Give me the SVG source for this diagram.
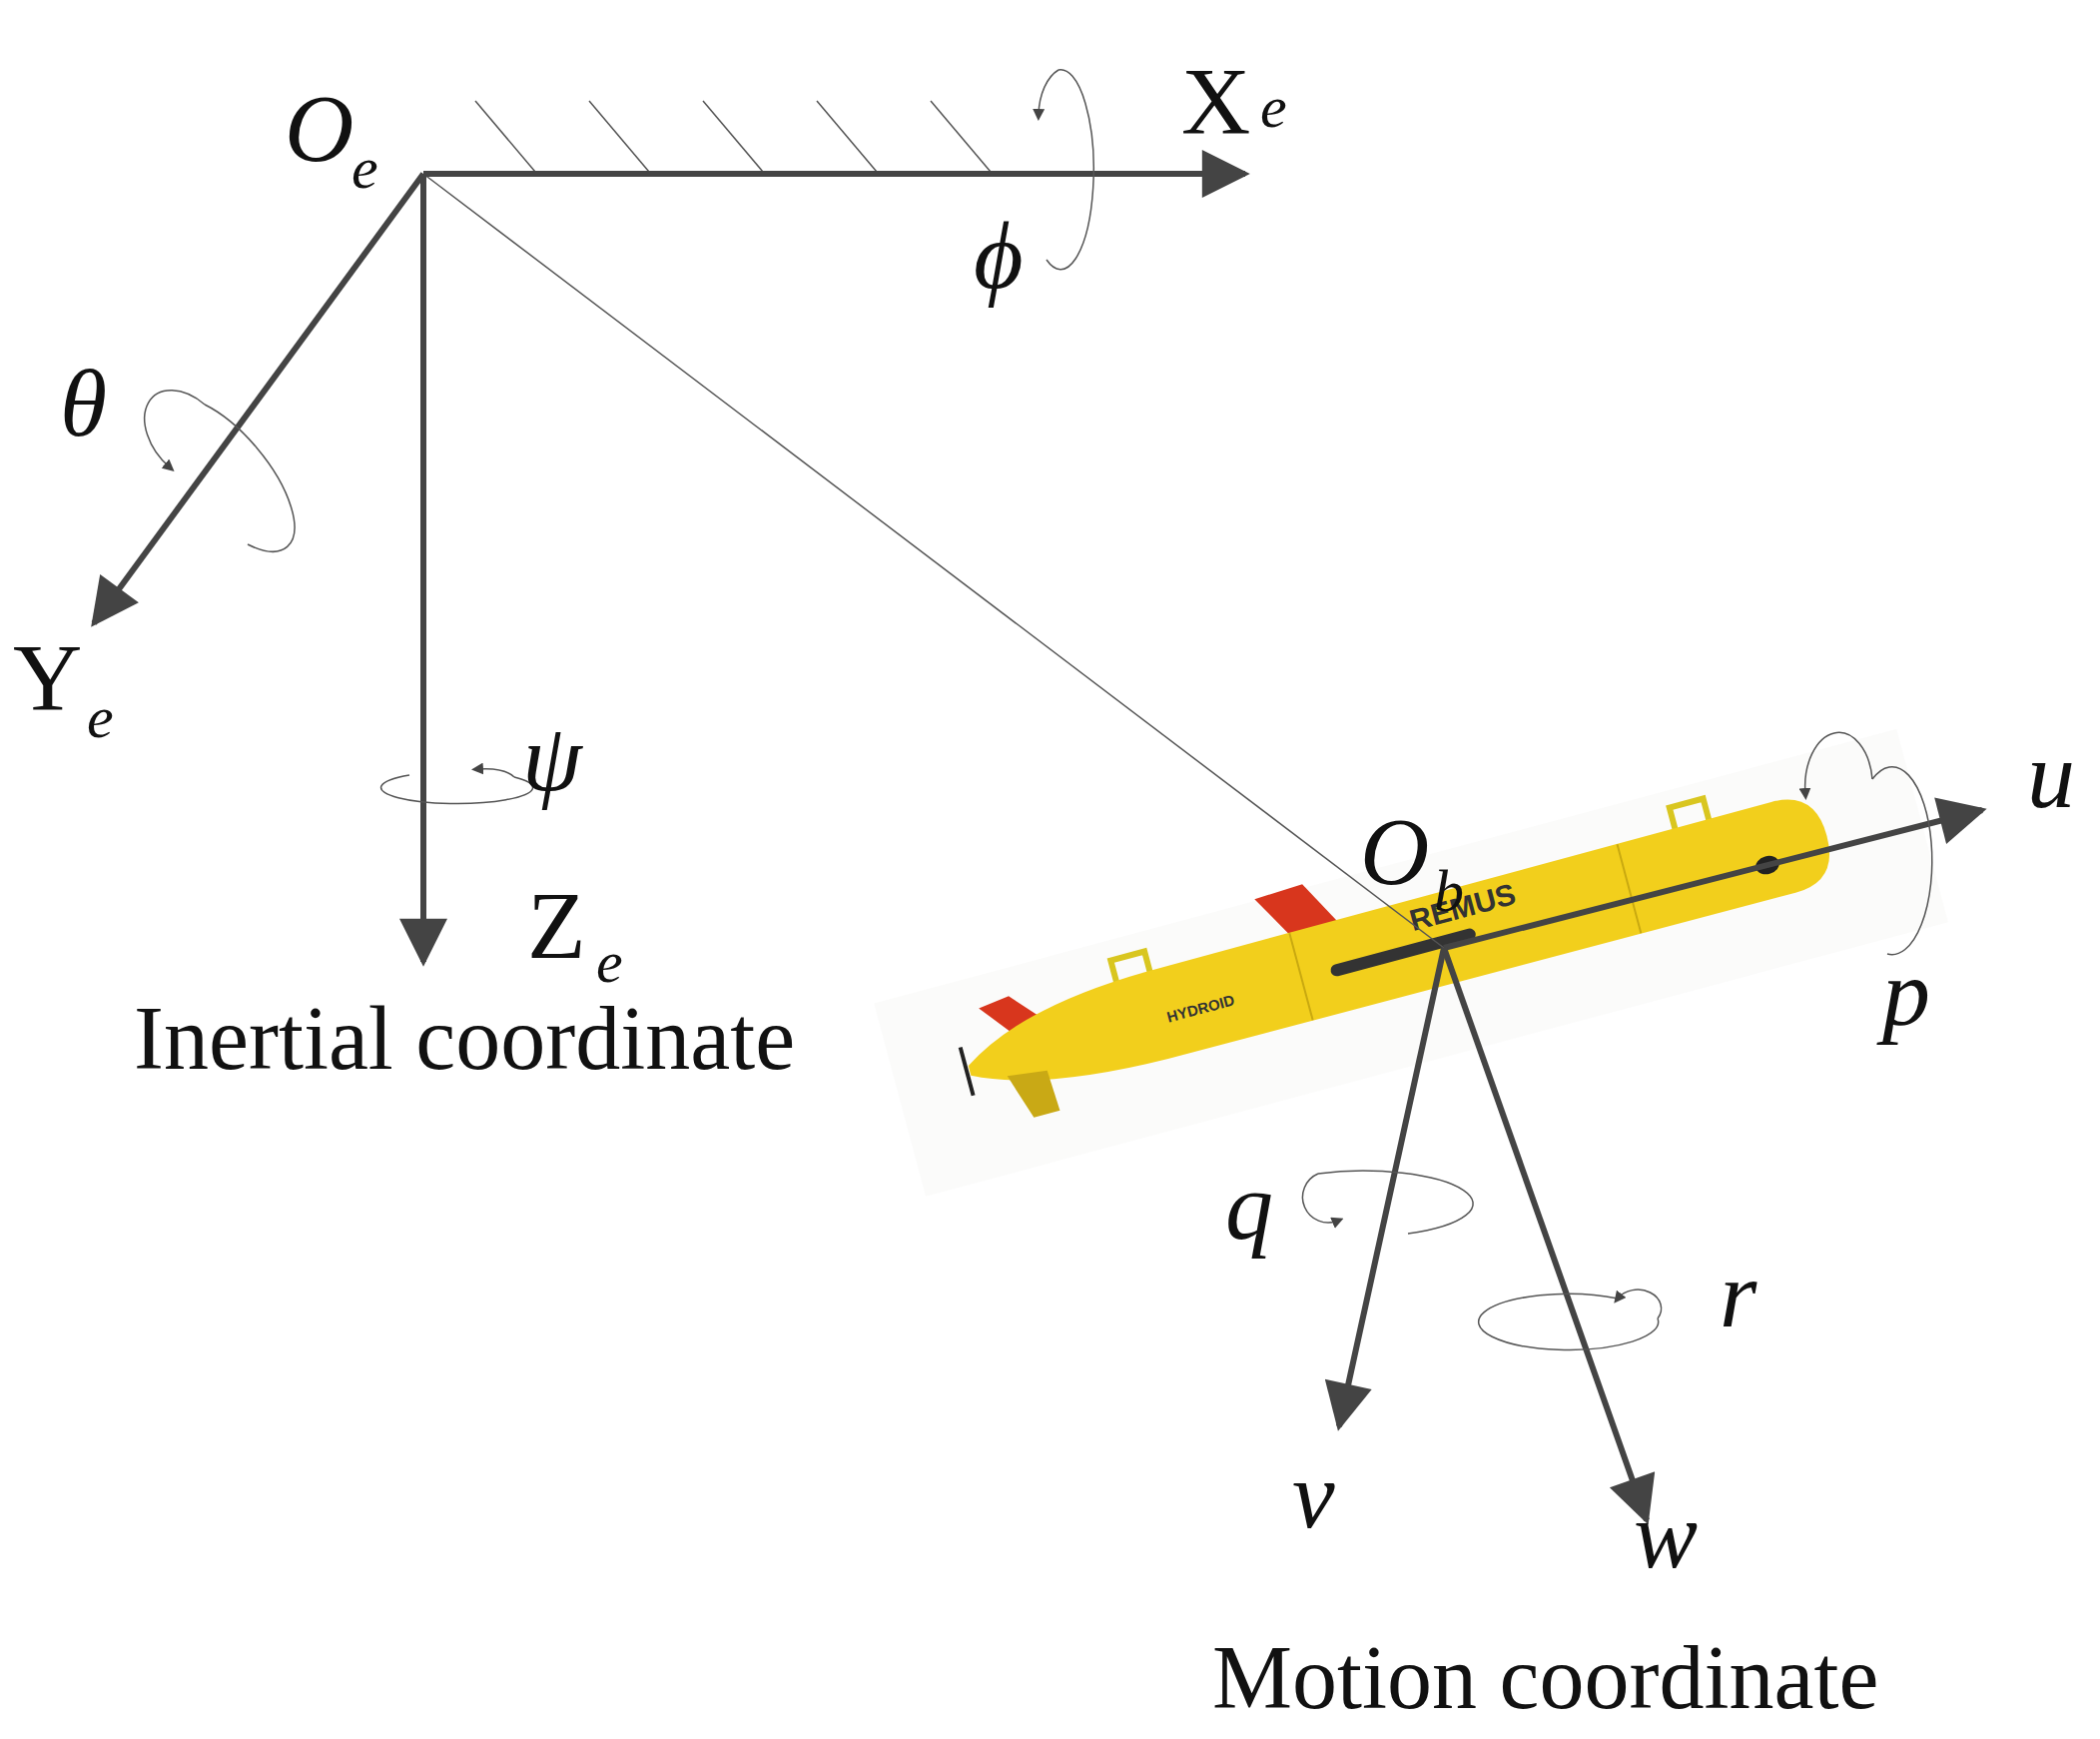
<svg xmlns="http://www.w3.org/2000/svg" width="2103" height="1741" viewBox="0 0 2103 1741">
<style>
.ax{stroke:#444;stroke-width:6;fill:none}
.thin{stroke:#555;stroke-width:1.5;fill:none}
.t{font-family:"Liberation Serif",serif;fill:#111}
.i{font-family:"Liberation Serif",serif;font-style:italic;fill:#111}
</style>
<defs>
<marker id="ah" viewBox="0 0 10 10" refX="9" refY="5" markerWidth="10" markerHeight="8" markerUnits="strokeWidth" orient="auto"><path d="M0,0 L10,5 L0,10 Z" fill="#444"/></marker>
<marker id="sm" viewBox="0 0 10 10" refX="5" refY="5" markerWidth="8" markerHeight="8" markerUnits="strokeWidth" orient="auto"><path d="M0,0 L10,5 L0,10 Z" fill="#444"/></marker>
</defs>
<rect width="2103" height="1741" fill="#fff"/>
<g id="auv" transform="rotate(-15 1388 955)">
<rect x="880" y="870" width="1060" height="200" fill="#f8f8f6" opacity="0.5"/>
<path d="M1300,912 L1275,868 L1325,866 L1350,912 Z" fill="#d8361d"/>
<path d="M1010,940 L980,902 L1012,898 L1045,935 Z" fill="#d8361d"/>
<path d="M1120,915 L1120,890 L1155,890 L1155,915" stroke="#d9c620" stroke-width="6" fill="none"/>
<path d="M1700,912 L1700,887 L1735,887 L1735,912" stroke="#d9c620" stroke-width="6" fill="none"/>
<path d="M955,955 Q1020,912 1150,910 L1800,908 Q1845,908 1845,955 Q1845,1002 1800,1002 L1150,1000 Q1020,998 955,965 Z" fill="#f2cf1c"/>
<path d="M990,975 L1005,1022 L1032,1022 L1030,980 Z" fill="#c9a915"/>
<rect x="1330" y="952" width="150" height="12" rx="6" fill="#333"/>
<line x1="1300" y1="910" x2="1300" y2="1000" stroke="#c9a910" stroke-width="2"/>
<line x1="1640" y1="909" x2="1640" y2="1001" stroke="#c9a910" stroke-width="2"/>
<ellipse cx="1780" cy="968" rx="12" ry="9" fill="#222"/>
<line x1="952" y1="935" x2="952" y2="985" stroke="#222" stroke-width="4"/>
<text x="1420" y="940" font-family="Liberation Sans,sans-serif" font-weight="bold" font-size="30" fill="#333">REMUS</text>
<text x="1160" y="965" font-family="Liberation Sans,sans-serif" font-weight="bold" font-size="15" fill="#333">HYDROID</text>
</g>
<g id="hatch" class="thin">
<line x1="476" y1="101" x2="536" y2="172"/><line x1="590" y1="101" x2="650" y2="172"/><line x1="704" y1="101" x2="764" y2="172"/><line x1="818" y1="101" x2="878" y2="172"/><line x1="932" y1="101" x2="992" y2="172"/>
<line x1="424" y1="174" x2="1446" y2="949"/>
</g>
<g id="connectors">
<line class="ax" x1="424" y1="174" x2="1247" y2="174" marker-end="url(#ah)"/>
<line class="ax" x1="424" y1="174" x2="94" y2="624" marker-end="url(#ah)"/>
<line class="ax" x1="424" y1="174" x2="424" y2="963" marker-end="url(#ah)"/>
<line class="ax" x1="1446" y1="949" x2="1985" y2="811" marker-end="url(#ah)"/>
<line class="ax" x1="1446" y1="949" x2="1341" y2="1428" marker-end="url(#ah)"/>
<line class="ax" x1="1446" y1="949" x2="1649" y2="1522" marker-end="url(#ah)"/>
</g>
<g id="rotations" class="thin">
<path d="M1060,70 A33,100 0 1 1 1048,260"/>
<path d="M1060,70 A30,50 0 0 0 1040,115" marker-end="url(#sm)"/>
<path d="M205,405 A30,70 -40 1 1 248,545"/>
<path d="M205,405 A20,30 -40 0 0 170,468" marker-end="url(#sm)"/>
<path d="M410,776 A76,16 0 1 0 515,778"/>
<path d="M515,778 Q505,768 478,770" marker-end="url(#sm)"/>
<path d="M1875,780 A40,94 0 1 1 1890,955"/>
<path d="M1875,780 A25,40 0 0 0 1808,795" marker-end="url(#sm)"/>
<path d="M1320,1175 A87,26 0 1 1 1410,1235"/>
<path d="M1320,1175 A20,20 0 0 0 1340,1222" marker-end="url(#sm)"/>
<path d="M1660,1320 A90,28 0 1 1 1620,1300"/>
<path d="M1660,1320 A20,16 0 0 0 1620,1300" marker-end="url(#sm)"/>
</g>
<g id="labels">
<text class="i" x="285" y="161" font-size="96">O</text><text class="i" x="352" y="188" font-size="60">e</text>
<text class="t" x="1183" y="134" font-size="96">X</text><text class="i" x="1262" y="127" font-size="60">e</text>
<text class="t" x="13" y="711" font-size="96">Y</text><text class="i" x="87" y="738" font-size="60">e</text>
<text class="t" x="528" y="959" font-size="96">Z</text><text class="i" x="597" y="983" font-size="60">e</text>
<text class="i" x="975" y="288" font-size="96">ϕ</text>
<text class="i" x="60" y="436" font-size="96">θ</text>
<text class="i" x="523" y="791" font-size="96">ψ</text>
<text class="t" x="134" y="1070" font-size="90">Inertial coordinate</text>
<text class="i" x="1362" y="885" font-size="96">O</text><text class="i" x="1436" y="912" font-size="60">b</text>
<text class="i" x="2030" y="808" font-size="96">u</text>
<text class="i" x="1885" y="1026" font-size="96">p</text>
<text class="i" x="1227" y="1240" font-size="96">q</text>
<text class="i" x="1722" y="1328" font-size="96">r</text>
<text class="i" x="1294" y="1529" font-size="96">v</text>
<text class="i" x="1636" y="1569" font-size="96">w</text>
<text class="t" x="1214" y="1710" font-size="90">Motion coordinate</text>
</g>
</svg>
